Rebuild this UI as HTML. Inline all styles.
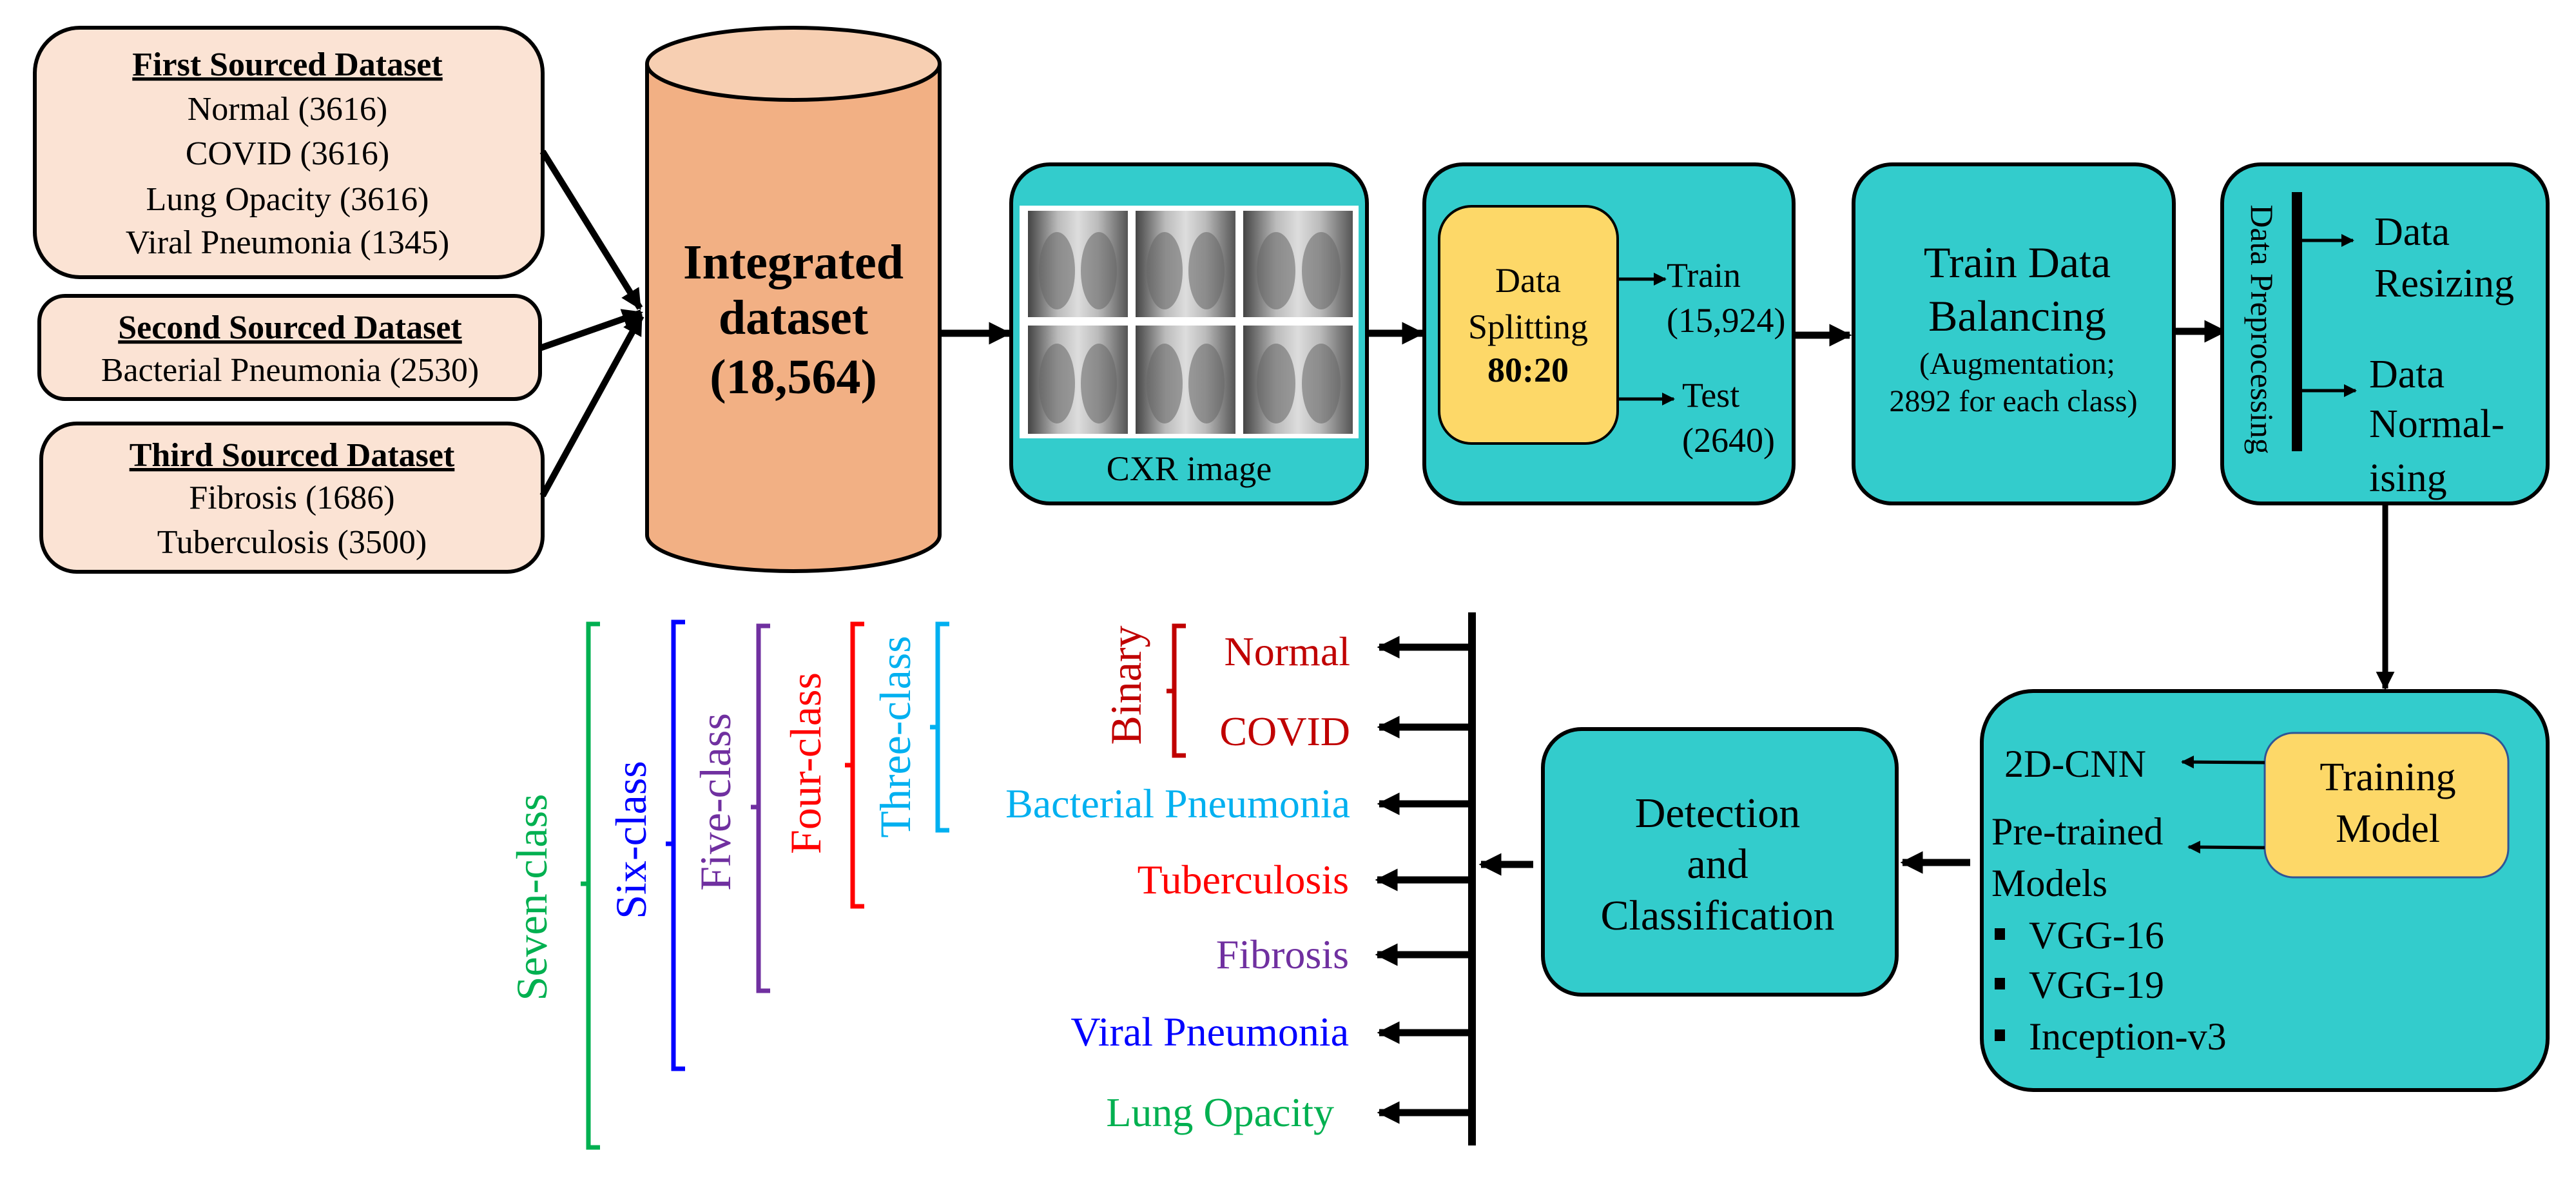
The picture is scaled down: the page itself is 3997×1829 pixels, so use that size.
<!DOCTYPE html>
<html><head><meta charset="utf-8"><style>html,body{margin:0;padding:0;background:#fff}svg{display:block}svg text{font-family:"Liberation Serif","DejaVu Serif",serif}</style></head>
<body>
<svg width="3997" height="1829" viewBox="0 0 3997 1829" xmlns="http://www.w3.org/2000/svg" font-family="Liberation Serif, serif">
<defs>
<marker id="ah" viewBox="0 0 10 10" refX="9" refY="5" markerWidth="4" markerHeight="4" orient="auto" markerUnits="strokeWidth"><path d="M0,0 L10,5 L0,10 z" fill="#000"/></marker>
<marker id="ah2" viewBox="0 0 10 10" refX="9" refY="5" markerWidth="3.2" markerHeight="3.2" orient="auto" markerUnits="strokeWidth"><path d="M0,0 L10,5 L0,10 z" fill="#000"/></marker>
<linearGradient id="xr" x1="0" y1="0" x2="1" y2="0"><stop offset="0" stop-color="#444"/><stop offset="0.3" stop-color="#bbb"/><stop offset="0.5" stop-color="#ddd"/><stop offset="0.7" stop-color="#bbb"/><stop offset="1" stop-color="#555"/></linearGradient>
</defs>

<g stroke="#000" stroke-width="6" fill="#fbe3d4">
<rect x="54" y="43" width="788" height="387" rx="70"/>
<rect x="61" y="459" width="777" height="160" rx="40"/>
<rect x="64" y="657" width="778" height="230" rx="55"/>
</g>
<g font-size="52" text-anchor="middle" fill="#000">
<text x="446" y="117" font-weight="bold" text-decoration="underline">First Sourced Dataset</text>
<text x="446" y="186">Normal (3616)</text>
<text x="446" y="255">COVID (3616)</text>
<text x="446" y="326">Lung Opacity (3616)</text>
<text x="446" y="393">Viral Pneumonia (1345)</text>
<text x="450" y="525" font-weight="bold" text-decoration="underline">Second Sourced Dataset</text>
<text x="450" y="591">Bacterial Pneumonia (2530)</text>
<text x="453" y="723" font-weight="bold" text-decoration="underline">Third Sourced Dataset</text>
<text x="453" y="789">Fibrosis (1686)</text>
<text x="453" y="858">Tuberculosis (3500)</text>
</g>
<g stroke="#000" stroke-width="10" fill="none">
<line x1="842" y1="235" x2="993" y2="478" marker-end="url(#ah2)"/>
<line x1="838" y1="540" x2="995" y2="485" marker-end="url(#ah2)"/>
<line x1="842" y1="769" x2="995" y2="490" marker-end="url(#ah2)"/>
</g>

<path d="M1004,99 L1004,830 A227,56 0 0 0 1458,830 L1458,99" fill="#f2b084" stroke="#000" stroke-width="6"/>
<ellipse cx="1231" cy="99" rx="227" ry="56" fill="#f7cfb2" stroke="#000" stroke-width="6"/>
<g font-size="76" font-weight="bold" text-anchor="middle">
<text x="1231" y="432">Integrated</text>
<text x="1231" y="518">dataset</text>
<text x="1231" y="610">(18,564)</text>
</g>
<line x1="1458" y1="517" x2="1566" y2="517" stroke="#000" stroke-width="11" marker-end="url(#ah2)"/>

<rect x="1569" y="255" width="552" height="526" rx="60" fill="#33cccc" stroke="#000" stroke-width="6"/>
<rect x="1582" y="319" width="526" height="361" fill="#fff"/>
<g fill="url(#xr)">
<rect x="1595" y="327" width="155" height="165"/>
<rect x="1762" y="327" width="155" height="165"/>
<rect x="1929" y="327" width="170" height="165"/>
<rect x="1595" y="505" width="155" height="168"/>
<rect x="1762" y="505" width="155" height="168"/>
<rect x="1929" y="505" width="170" height="168"/>
</g>
<g fill="#666" opacity="0.55">
<ellipse cx="1640" cy="420" rx="28" ry="60"/><ellipse cx="1705" cy="420" rx="28" ry="60"/>
<ellipse cx="1807" cy="420" rx="28" ry="60"/><ellipse cx="1872" cy="420" rx="28" ry="60"/>
<ellipse cx="1980" cy="420" rx="30" ry="60"/><ellipse cx="2050" cy="420" rx="30" ry="60"/>
<ellipse cx="1640" cy="595" rx="28" ry="62"/><ellipse cx="1705" cy="595" rx="28" ry="62"/>
<ellipse cx="1807" cy="595" rx="28" ry="62"/><ellipse cx="1872" cy="595" rx="28" ry="62"/>
<ellipse cx="1980" cy="595" rx="30" ry="62"/><ellipse cx="2050" cy="595" rx="30" ry="62"/>
</g>
<text x="1845" y="745" font-size="54" text-anchor="middle">CXR image</text>
<line x1="2121" y1="517" x2="2207" y2="517" stroke="#000" stroke-width="11" marker-end="url(#ah2)"/>

<rect x="2210" y="255" width="573" height="526" rx="60" fill="#33cccc" stroke="#000" stroke-width="6"/>
<rect x="2233" y="320" width="277" height="368" rx="50" fill="#fdd868" stroke="#000" stroke-width="4"/>
<g font-size="54" text-anchor="middle">
<text x="2371" y="453">Data</text>
<text x="2371" y="525">Splitting</text>
<text x="2371" y="592" font-weight="bold">80:20</text>
</g>
<g stroke="#000" stroke-width="5">
<line x1="2510" y1="433" x2="2584" y2="433" marker-end="url(#ah)"/>
<line x1="2512" y1="619" x2="2597" y2="619" marker-end="url(#ah)"/>
</g>
<g font-size="54">
<text x="2586" y="445">Train</text>
<text x="2586" y="515">(15,924)</text>
<text x="2610" y="631">Test</text>
<text x="2610" y="701">(2640)</text>
</g>
<line x1="2783" y1="520" x2="2870" y2="520" stroke="#000" stroke-width="11" marker-end="url(#ah2)"/>

<rect x="2876" y="255" width="497" height="526" rx="60" fill="#33cccc" stroke="#000" stroke-width="6"/>
<g text-anchor="middle">
<text x="3130" y="430" font-size="68">Train Data</text>
<text x="3130" y="513" font-size="68">Balancing</text>
<text x="3130" y="580" font-size="48">(Augmentation;</text>
<text x="3124" y="638" font-size="48">2892 for each class)</text>
</g>
<line x1="3373" y1="514" x2="3452" y2="514" stroke="#000" stroke-width="11" marker-end="url(#ah2)"/>

<rect x="3448" y="255" width="505" height="526" rx="60" fill="#33cccc" stroke="#000" stroke-width="6"/>
<text transform="translate(3493,511) rotate(90)" font-size="50" text-anchor="middle">Data Preprocessing</text>
<line x1="3564" y1="298" x2="3564" y2="700" stroke="#000" stroke-width="16"/>
<g stroke="#000" stroke-width="5">
<line x1="3564" y1="373" x2="3651" y2="373" marker-end="url(#ah)"/>
<line x1="3564" y1="606" x2="3655" y2="606" marker-end="url(#ah)"/>
</g>
<g font-size="62">
<text x="3684" y="380">Data</text>
<text x="3684" y="460">Resizing</text>
<text x="3676" y="601">Data</text>
<text x="3676" y="678">Normal-</text>
<text x="3676" y="762">ising</text>
</g>
<line x1="3701" y1="781" x2="3701" y2="1068" stroke="#000" stroke-width="9" marker-end="url(#ah2)"/>

<rect x="3075" y="1072" width="878" height="619" rx="80" fill="#33cccc" stroke="#000" stroke-width="6"/>
<rect x="3514" y="1137" width="378" height="224" rx="45" fill="#fdd868" stroke="#2f5597" stroke-width="3"/>
<g font-size="62" text-anchor="middle">
<text x="3705" y="1226">Training</text>
<text x="3705" y="1306">Model</text>
</g>
<g stroke="#000" stroke-width="5">
<line x1="3514" y1="1183" x2="3386" y2="1182" marker-end="url(#ah)"/>
<line x1="3514" y1="1315" x2="3396" y2="1314" marker-end="url(#ah)"/>
</g>
<g font-size="60">
<text x="3110" y="1205">2D-CNN</text>
<text x="3090" y="1310">Pre-trained</text>
<text x="3090" y="1390">Models</text>
<text x="3148" y="1471">VGG-16</text>
<text x="3148" y="1548">VGG-19</text>
<text x="3148" y="1628">Inception-v3</text>
</g>
<g fill="#000">
<rect x="3095" y="1440" width="16" height="18"/>
<rect x="3095" y="1517" width="16" height="18"/>
<rect x="3095" y="1597" width="16" height="18"/>
</g>
<line x1="3057" y1="1338" x2="2952" y2="1338" stroke="#000" stroke-width="11" marker-end="url(#ah2)"/>

<rect x="2394" y="1131" width="549" height="412" rx="60" fill="#33cccc" stroke="#000" stroke-width="6"/>
<g font-size="66" text-anchor="middle">
<text x="2665" y="1283">Detection</text>
<text x="2665" y="1362">and</text>
<text x="2665" y="1442">Classification</text>
</g>
<line x1="2379" y1="1341" x2="2298" y2="1341" stroke="#000" stroke-width="11" marker-end="url(#ah2)"/>

<line x1="2284" y1="950" x2="2284" y2="1777" stroke="#000" stroke-width="12"/>
<g stroke="#000" stroke-width="11">
<line x1="2284" y1="1004" x2="2140" y2="1004" marker-end="url(#ah2)"/>
<line x1="2284" y1="1128" x2="2140" y2="1128" marker-end="url(#ah2)"/>
<line x1="2284" y1="1247" x2="2140" y2="1247" marker-end="url(#ah2)"/>
<line x1="2284" y1="1365" x2="2137" y2="1365" marker-end="url(#ah2)"/>
<line x1="2284" y1="1481" x2="2137" y2="1481" marker-end="url(#ah2)"/>
<line x1="2284" y1="1602" x2="2140" y2="1602" marker-end="url(#ah2)"/>
<line x1="2284" y1="1726" x2="2140" y2="1726" marker-end="url(#ah2)"/>
</g>
<g font-size="64" text-anchor="end">
<text x="2095" y="1032" fill="#c00000">Normal</text>
<text x="2095" y="1156" fill="#c00000">COVID</text>
<text x="2095" y="1268" fill="#00b0f0">Bacterial Pneumonia</text>
<text x="2093" y="1386" fill="#ff0000">Tuberculosis</text>
<text x="2093" y="1502" fill="#7030a0">Fibrosis</text>
<text x="2093" y="1622" fill="#0000ff">Viral Pneumonia</text>
<text x="2070" y="1747" fill="#00b050">Lung Opacity</text>
</g>

<g fill="none" stroke-width="7">
<path d="M1840,971 H1822 V1172 H1840 M1822,1072 H1810" stroke="#c00000"/>
<path d="M1473,968 H1455 V1288 H1473 M1455,1128 H1443" stroke="#00b0f0"/>
<path d="M1341,968 H1323 V1406 H1341 M1323,1187 H1311" stroke="#ff0000"/>
<path d="M1195,971 H1177 V1537 H1195 M1177,1252 H1165" stroke="#7030a0"/>
<path d="M1063,965 H1045 V1658 H1063 M1045,1309 H1033" stroke="#0000ff"/>
<path d="M931,968 H913 V1780 H931 M913,1371 H901" stroke="#00b050"/>
</g>
<g font-size="68" text-anchor="middle">
<text transform="translate(1770,1063) rotate(-90)" fill="#c00000">Binary</text>
<text transform="translate(1412,1143) rotate(-90)" fill="#00b0f0">Three-class</text>
<text transform="translate(1273,1184) rotate(-90)" fill="#ff0000">Four-class</text>
<text transform="translate(1133,1244) rotate(-90)" fill="#7030a0">Five-class</text>
<text transform="translate(1002,1303) rotate(-90)" fill="#0000ff">Six-class</text>
<text transform="translate(848,1392) rotate(-90)" fill="#00b050">Seven-class</text>
</g>
</svg>
</body></html>
